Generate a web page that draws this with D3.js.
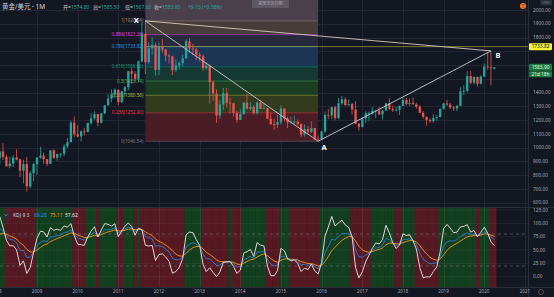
<!DOCTYPE html>
<html><head><meta charset="utf-8">
<script src="https://cdn.jsdelivr.net/npm/d3@7"></script>
<style>
html,body{margin:0;padding:0;background:#131722;overflow:hidden}
svg{display:block}
text{font-family:"Noto Sans","Noto Sans CJK SC",Roboto,sans-serif}
</style></head>
<body><svg id="c" width="554" height="297"></svg>
<script>
// ---- DATA (monthly XAU/USD, first bar = 2007-04) ----
const firstMonth = [2007, 3];
const opens = [
  662,679,659,650,665,672,743,790,783,
  834,923,972,933,865,885,928,914,833,880,718,814,
  880,927,942,916,883,980,926,954,955,1008,1040,1182,
  1097,1081,1118,1113,1179,1213,1244,1181,1248,1307,1357,1386,
  1421,1332,1410,1439,1556,1536,1500,1628,1828,1620,1722,1746,
  1565,1738,1711,1669,1663,1563,1597,1614,1648,1773,1720,1714,
  1675,1663,1578,1596,1476,1393,1234,1313,1396,1326,1323,1253,
  1202,1244,1326,1283,1296,1250,1327,1282,1287,1210,1171,1167,
  1184,1283,1213,1183,1184,1190,1172,1095,1135,1115,1142,1065,
  1061,1118,1238,1233,1293,1215,1322,1351,1309,1316,1277,1173,
  1151,1211,1249,1249,1268,1269,1242,1269,1322,1280,1271,1275,
  1303,1345,1318,1325,1315,1298,1253,1224,1201,1192,1215,1222,
  1282,1321,1313,1292,1284,1305,1409,1413,1520,1472,1513,1464,
  1517,1589,1585,1574.8
];
const highs = [
  692,693,673,686,677,745,795,845,838,
  924,974,1033,950,935,945,988,920,912,932,828,889,
  930,1006,964,915,981,990,958,961,1025,1070,1195,1227,
  1162,1127,1144,1181,1250,1265,1246,1250,1308,1388,1424,1431,
  1424,1411,1447,1557,1577,1555,1632,1913,1920.94,1764,1803,1764,
  1764,1791,1719,1679,1668,1641,1627,1675,1788,1796,1755,1723,
  1695,1679,1617,1605,1487,1424,1348,1434,1433,1361,1322,1267,
  1280,1332,1392,1331,1306,1332,1345,1322,1289,1255,1208,1238,
  1307,1287,1224,1225,1232,1205,1174,1170,1157,1191,1142,1088,
  1123,1263,1282,1298,1304,1362,1375,1367,1352,1325,1338,1180,
  1220,1264,1262,1296,1271,1296,1272,1326,1357,1306,1299,1306,
  1366,1362,1356,1366,1326,1308,1265,1225,1214,1243,1237,1284,
  1326,1347,1324,1303,1306,1439,1453,1555,1557,1518,1516,1525,
  1611,1689,1703,1585.5
];
const lows = [
  661,651,642,644,643,669,731,775,780,
  832,876,910,860,850,860,908,786,740,681,705,754,
  802,920,882,865,880,917,904,928,938,995,1038,1075,
  1075,1044,1088,1112,1167,1203,1156,1176,1243,1309,1330,1359,
  1308,1324,1380,1417,1462,1478,1479,1616,1534,1604,1671,1523,
  1526,1690,1627,1612,1527,1549,1564,1591,1646,1691,1672,1635,
  1626,1555,1562,1321,1338,1180,1207,1272,1292,1251,1227,1182,
  1203,1238,1277,1268,1240,1240,1280,1281,1206,1161,1131,1142,
  1167,1191,1142,1175,1170,1162,1077,1080,1098,1106,1052,1046.54,
  1061,1107,1208,1207,1199,1207,1311,1302,1302,1241,1171,1123,
  1146,1180,1195,1241,1214,1236,1205,1267,1274,1260,1264,1237,
  1302,1307,1303,1314,1282,1250,1211,1160,1180,1183,1196,1221,
  1276,1302,1281,1266,1266,1301,1381,1400,1459,1458,1445,1459,
  1517,1563,1451,1567.6
];
const closes = [
  679,659,650,665,672,743,790,783,834,
  923,972,933,865,885,928,914,833,880,718,814,880,
  927,942,916,883,980,926,954,955,1008,1040,1182,1097,
  1081,1118,1113,1179,1213,1244,1181,1248,1307,1357,1386,1421,
  1332,1410,1439,1556,1536,1500,1628,1828,1620,1722,1746,1565,
  1738,1711,1669,1663,1563,1597,1614,1648,1773,1720,1714,1675,
  1663,1578,1596,1476,1393,1234,1313,1396,1326,1323,1253,1202,
  1244,1326,1283,1296,1250,1327,1282,1287,1210,1171,1167,1184,
  1283,1213,1183,1184,1190,1172,1095,1135,1115,1142,1065,1061,
  1118,1238,1233,1293,1215,1322,1351,1309,1316,1277,1173,1151,
  1211,1249,1249,1268,1269,1242,1269,1322,1280,1271,1275,1303,
  1345,1318,1325,1315,1298,1253,1224,1201,1192,1215,1222,1282,
  1321,1313,1292,1284,1305,1409,1413,1520,1472,1513,1464,1517,
  1589,1585,1577,1583.9
];
const priceTicks = [600,700,800,900,1000,1100,1200,1300,1400,1500,1600,1700,1800,1900,2000];
const kdjTicks = [0,25,50,75,100,125];
const kdjDashed = [20,80];
const yearTicks = [2008,2009,2010,2011,2012,2013,2014,2015,2016,2017,2018,2019,2020,2021];
const fibLevels = [0,0.236,0.382,0.5,0.618,0.786,0.886,1,1.272];
const fibColors = ["#787b86","#f23645","#b5c234","#4caf50","#089981","#2196f3","#e040fb","#a08c7a","#9c7f9a"];
const fibFills  = ["#131722","#4a1c26","#333a1e","#1b3d22","#163832","#1b3552","#272a3a","#463d3a","#4a404c"];
const pivots = [
  {name:"X", date:[2011,8], price:1920.94},
  {name:"A", date:[2015,11], price:1046.54},
  {name:"B", date:[2020,2], price:1703}
];
const hLinePrice = 1733.82;
const lastPrice = 1583.90;
const countdown = "21d 18h";
const header = {sym:"黄金/美元 · 1M", o:"1574.80", h:"1585.50", l:"1567.60", c:"1583.90", chg:"+9.13 (+0.58%)"};
const kdjLegend = {name:"KDJ 9 3", k:"69.28", d:"75.11", j:"57.62"};

// ---- LAYOUT ----
const svg = d3.select("#c");
const axisX = 528, mainBottom = 207, kdjBottom = 287;
const bg = "#131722", grid = "#222632", axisText = "#a3a6af";
const x = d3.scaleUtc().domain([Date.UTC(2008,0,1), Date.UTC(2021,0,1)]).range([-3.7, 525]);
const y = d3.scaleLinear().domain([600,2000]).range([202.7,10]);
const yk = d3.scaleLinear().domain([0,125]).range([276.7,210]);
const dateOf = i => Date.UTC(firstMonth[0], firstMonth[1]+i, 1);
const bars = closes.map((c,i)=>({t:dateOf(i), o:opens[i], h:highs[i], l:lows[i], c}));
const step = x(Date.UTC(2010,1,1)) - x(Date.UTC(2010,0,1));

svg.append("rect").attr("width",554).attr("height",297).attr("fill",bg);
const defs = svg.append("defs");
defs.append("clipPath").attr("id","cm").append("rect").attr("x",0).attr("y",0).attr("width",axisX).attr("height",mainBottom);
defs.append("clipPath").attr("id","ck").append("rect").attr("x",0).attr("y",mainBottom+1).attr("width",axisX).attr("height",kdjBottom-mainBottom-1);

// ---- KDJ compute (KDJ 9,3,3 from the bars) ----
let K=50,D=50; const kd=[];
bars.forEach((b,i)=>{
  const s=Math.max(0,i-8);
  const hh=d3.max(highs.slice(s,i+1)), ll=d3.min(lows.slice(s,i+1));
  const rsv = hh===ll?50:(b.c-ll)/(hh-ll)*100;
  K = 2/3*K + rsv/3; D = 2/3*D + K/3;
  kd.push({t:b.t, k:K, d:D, j:3*K-2*D});
});

// ---- MAIN PANEL ----
const gm = svg.append("g").attr("clip-path","url(#cm)");
gm.selectAll(".hg").data(priceTicks).join("line").attr("x1",0).attr("x2",axisX)
  .attr("y1",d=>Math.round(y(d))+0.5).attr("y2",d=>Math.round(y(d))+0.5).attr("stroke",grid);
gm.selectAll(".vg").data(yearTicks).join("line")
  .attr("x1",d=>Math.round(x(Date.UTC(d,0,1)))+0.5).attr("x2",d=>Math.round(x(Date.UTC(d,0,1)))+0.5)
  .attr("y1",0).attr("y2",mainBottom).attr("stroke",grid);

const pX = pivots[0], pA = pivots[1], pB = pivots[2];
const px = p => x(Date.UTC(p.date[0],p.date[1],1));
const fibLow = pA.price, fibHigh = pX.price;
const fibPrice = l => fibLow + l*(fibHigh-fibLow);
const fx0 = px(pX), fx1 = px(pA);
for(let i=1;i<fibLevels.length;i++){
  const yt = y(fibPrice(fibLevels[i])), yb = y(fibPrice(fibLevels[i-1]));
  gm.append("rect").attr("x",fx0).attr("width",fx1-fx0).attr("y",yt).attr("height",yb-yt).attr("fill",fibFills[i]);
}
fibLevels.forEach((l,i)=>{
  const yy = y(fibPrice(l));
  gm.append("line").attr("x1",fx0).attr("x2",fx1).attr("y1",yy).attr("y2",yy)
    .attr("stroke",fibColors[i]).attr("stroke-opacity",0.7).attr("stroke-width",0.7);
  if(l<=1) gm.append("text").attr("x",fx0-2).attr("y",yy).attr("dy","0.35em").attr("text-anchor","end")
    .attr("font-size",4.6).attr("fill",fibColors[i]).text(`${l}(${fibPrice(l).toFixed(2)})`);
});

// horizontal ray
gm.append("line").attr("x1",fx0).attr("x2",axisX).attr("y1",y(hLinePrice)).attr("y2",y(hLinePrice))
  .attr("stroke","#c9c23a").attr("stroke-opacity",0.7).attr("stroke-width",0.8);

// candles
const cg = gm.append("g");
const col = d => d.c>=d.o?"#26a69a":"#ef5350";
cg.selectAll("line.w").data(bars).join("line")
  .attr("x1",d=>x(d.t)).attr("x2",d=>x(d.t)).attr("y1",d=>y(d.h)).attr("y2",d=>y(d.l))
  .attr("stroke",col).attr("stroke-width",0.8);
cg.selectAll("rect.b").data(bars).join("rect")
  .attr("x",d=>x(d.t)-1.15).attr("width",2.3)
  .attr("y",d=>y(Math.max(d.o,d.c))).attr("height",d=>Math.max(0.8,Math.abs(y(d.o)-y(d.c))))
  .attr("fill",col);

// pattern lines
const pp = p => [px(p), y(p.price)];
gm.append("line").attr("x1",pp(pX)[0]).attr("y1",pp(pX)[1]).attr("x2",pp(pB)[0]).attr("y2",pp(pB)[1])
  .attr("stroke","#d9c9bd").attr("stroke-width",0.9);
gm.append("line").attr("x1",pp(pX)[0]).attr("y1",pp(pX)[1]).attr("x2",pp(pA)[0]).attr("y2",pp(pA)[1])
  .attr("stroke","#c8cad0").attr("stroke-width",0.9);
gm.append("line").attr("x1",pp(pA)[0]).attr("y1",pp(pA)[1]).attr("x2",pp(pB)[0]).attr("y2",pp(pB)[1])
  .attr("stroke","#c8cad0").attr("stroke-width",0.9);
const lblOff = {X:[-9,-0.5],A:[6,6],B:[7,4]};
pivots.forEach(p=>{
  gm.append("text").attr("x",pp(p)[0]+lblOff[p.name][0]).attr("y",pp(p)[1]+lblOff[p.name][1]).attr("dy","0.35em")
    .attr("text-anchor","middle").attr("font-size",7.5).attr("font-weight","bold").attr("fill","#ffffff").text(p.name);
});

// tooltip box at top
svg.append("rect").attr("x",252).attr("y",0).attr("width",37).attr("height",8).attr("fill","#5d5863");
svg.append("text").attr("x",270.5).attr("y",4).attr("dy","0.35em").attr("text-anchor","middle").attr("font-size",4)
  .attr("fill","#a9a4ad").text("跳至您的日期");

// header
const hd = svg.append("g").attr("font-size",5);
hd.append("text").attr("x",2).attr("y",8.5).attr("font-size",6.5).attr("fill","#d1d4dc").text(header.sym);
const up = "#26a69a";
[["开",header.o,63],["高",header.h,93],["低",header.l,125],["收",header.c,154]].forEach(([k,v,xx])=>{
  const t = hd.append("text").attr("x",xx).attr("y",8.5);
  t.append("tspan").attr("fill","#c5c8d0").text(k+"=");
  t.append("tspan").attr("fill",up).text(v);
});
hd.append("text").attr("x",188).attr("y",8.5).attr("fill",up).text(header.chg);

// ---- KDJ PANEL ----
const gk = svg.append("g").attr("clip-path","url(#ck)");
gk.selectAll("rect.band").data(kd).join("rect")
  .attr("x",d=>x(d.t)-step/2).attr("width",step+0.3).attr("y",mainBottom).attr("height",kdjBottom-mainBottom)
  .attr("fill",d=>d.k>=d.d?"#123f1f":"#561923");
gk.selectAll(".kg").data(kdjTicks).join("line").attr("x1",0).attr("x2",axisX)
  .attr("y1",d=>yk(d)).attr("y2",d=>yk(d)).attr("stroke","#ffffff").attr("stroke-opacity",0.06);
gk.selectAll(".kv").data(yearTicks).join("line")
  .attr("x1",d=>Math.round(x(Date.UTC(d,0,1)))+0.5).attr("x2",d=>Math.round(x(Date.UTC(d,0,1)))+0.5)
  .attr("y1",mainBottom).attr("y2",kdjBottom).attr("stroke","#ffffff").attr("stroke-opacity",0.07);
gk.selectAll(".kd").data(kdjDashed).join("line").attr("x1",0).attr("x2",axisX)
  .attr("y1",d=>yk(d)).attr("y2",d=>yk(d)).attr("stroke","#9598a1").attr("stroke-opacity",0.6).attr("stroke-dasharray","3,3").attr("stroke-width",0.7);
const ln = key => d3.line().x(d=>x(d.t)).y(d=>yk(d[key]));
gk.append("path").datum(kd).attr("d",ln("d")).attr("fill","none").attr("stroke","#ff9800").attr("stroke-width",0.9);
gk.append("path").datum(kd).attr("d",ln("k")).attr("fill","none").attr("stroke","#2f8cf0").attr("stroke-opacity",0.85).attr("stroke-width",0.9);
gk.append("path").datum(kd).attr("d",ln("j")).attr("fill","none").attr("stroke","#f3e6ec").attr("stroke-width",0.9);

// legend
const lg = svg.append("g").attr("font-size",5);
lg.append("rect").attr("x",3).attr("y",212).attr("width",6).attr("height",6).attr("rx",1).attr("fill","#2a2e39");
lg.append("path").attr("d","M4.5,214.2 L6,215.8 L7.5,214.2").attr("fill","none").attr("stroke","#b2b5be").attr("stroke-width",0.6);
lg.append("text").attr("x",13).attr("y",217).attr("fill","#d1d4dc").text(kdjLegend.name);
lg.append("text").attr("x",34).attr("y",217).attr("fill","#2f8cf0").text(kdjLegend.k);
lg.append("text").attr("x",50).attr("y",217).attr("fill","#ff9800").text(kdjLegend.d);
lg.append("text").attr("x",65).attr("y",217).attr("fill","#e8e8e8").text(kdjLegend.j);

// separators
svg.append("line").attr("x1",0).attr("x2",554).attr("y1",mainBottom+0.5).attr("y2",mainBottom+0.5).attr("stroke","#2a2e39");
svg.append("line").attr("x1",0).attr("x2",554).attr("y1",kdjBottom+0.5).attr("y2",kdjBottom+0.5).attr("stroke","#2a2e39");
svg.append("line").attr("x1",axisX+0.5).attr("x2",axisX+0.5).attr("y1",0).attr("y2",297).attr("stroke","#2a2e39");

// axes
const tagYs = [y(hLinePrice), y(lastPrice), y(lastPrice)+7];
const visiblePrice = priceTicks.filter(d => tagYs.every(t => Math.abs(y(d)-t) > 5.5));
const ax = svg.append("g").attr("font-size",4.8).attr("fill",axisText);
ax.selectAll("text.p").data(visiblePrice).join("text").attr("x",533).attr("y",d=>y(d)).attr("dy","0.35em").text(d=>d.toFixed(2));
ax.selectAll("text.k").data(kdjTicks).join("text").attr("x",533).attr("y",d=>yk(d)).attr("dy","0.35em").text(d=>d.toFixed(2));
ax.selectAll("text.yr").data(yearTicks).join("text").attr("x",d=>x(Date.UTC(d,0,1))).attr("y",293).attr("text-anchor","middle").attr("font-size",4.6).text(d=>d);

// price tags
const tag = (yy,txt,fill,c,h=7)=>{
  svg.append("rect").attr("x",529).attr("y",yy-h/2).attr("width",23).attr("height",h).attr("rx",0.8).attr("fill",fill);
  svg.append("text").attr("x",540.5).attr("y",yy).attr("dy","0.35em").attr("text-anchor","middle").attr("font-size",4.8).attr("fill",c).text(txt);
};
tag(y(hLinePrice),hLinePrice.toFixed(2),"#f5ef3a","#131722");
tag(y(lastPrice),lastPrice.toFixed(2),"#1c7a3b","#e8f5e9");
tag(y(lastPrice)+7,countdown,"#1c7a3b","#e8f5e9",6);
svg.append("rect").attr("x",540).attr("y",0).attr("width",12).attr("height",5.5).attr("rx",1).attr("fill","#2a2e39");
svg.append("text").attr("x",546).attr("y",2.8).attr("dy","0.35em").attr("text-anchor","middle").attr("font-size",4).attr("fill","#787b86").text("USD");
svg.append("circle").attr("cx",523).attr("cy",6).attr("r",3).attr("fill","#f57c2a");
svg.append("text").attr("x",523).attr("y",6).attr("dy","0.35em").attr("text-anchor","middle").attr("font-size",4.5).attr("fill","#131722").attr("font-weight","bold").text("!");
svg.append("circle").attr("cx",541).attr("cy",292).attr("r",2.5).attr("fill","none").attr("stroke","#787b86").attr("stroke-width",0.6);
</script></body></html>
